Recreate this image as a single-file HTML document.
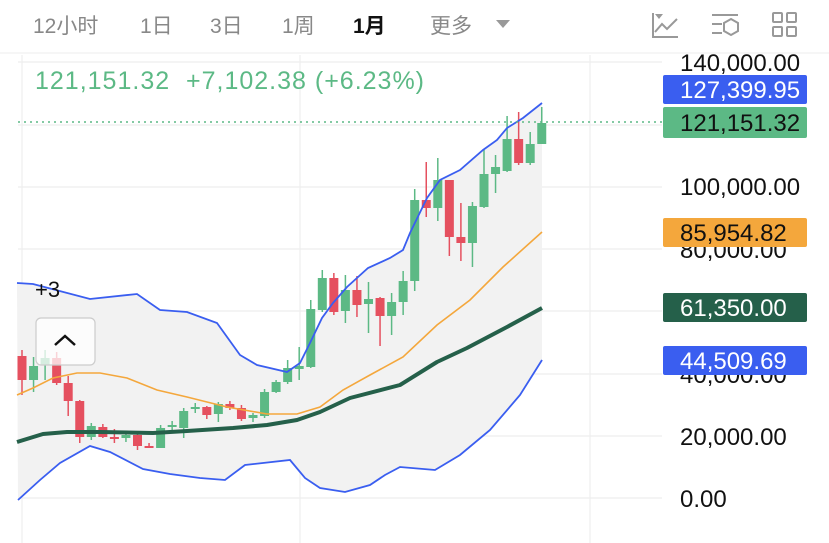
<!DOCTYPE html>
<html><head><meta charset="utf-8"><style>
body{margin:0;background:#fff;width:829px;height:543px;overflow:hidden;font-family:"Liberation Sans","Noto Sans CJK SC",sans-serif}
</style></head><body>
<svg id="s" width="829" height="543" xmlns="http://www.w3.org/2000/svg" style="position:absolute;left:0;top:0">
<line x1="0" y1="53" x2="829" y2="53" stroke="#eee" stroke-width="1"/>
<g font-size="21" fill="#888" font-family="Liberation Sans,Noto Sans CJK SC,sans-serif">
<text x="33" y="33">12小时</text><text x="140" y="33">1日</text><text x="210" y="33">3日</text><text x="282" y="33">1周</text>
<text x="353" y="33" fill="#111" font-weight="bold">1月</text><text x="430" y="33">更多</text>
</g>
<path d="M496 20 L510 20 L503 28Z" fill="#999"/>
<g stroke="#999" stroke-width="2" fill="none">
<path d="M653 13 V37 H678"/><path d="M655 32 L662 24 L667 29 L677 19"/><path d="M655 14 h8 l-4 5z" fill="#999" stroke="none"/>
<path d="M712 15 H738 M712 24 H722 M712 33 H722"/><path d="M731 19 l7 4 v8 l-7 4 l-7 -4 v-8z"/>
<rect x="773" y="13" width="9" height="9" rx="1"/><rect x="787" y="13" width="9" height="9" rx="1"/><rect x="773" y="27" width="9" height="9" rx="1"/><rect x="787" y="27" width="9" height="9" rx="1"/>
</g>
<g id="grid" stroke="#eee" stroke-width="1.2"></g>
<g id="chart"></g>
<line x1="18" y1="122" x2="662" y2="122" stroke="#5cb985" stroke-width="1.5" stroke-dasharray="2,4"/>
<text x="35" y="89" font-size="25" fill="#5cb985" letter-spacing="1" xml:space="preserve">121,151.32  +7,102.38 (+6.23%)</text>
<g font-size="24" fill="#111">
<text x="680" y="71">140,000.00</text>
<text x="680" y="195">100,000.00</text>
<text x="680" y="258">80,000.00</text>
<text x="680" y="383">40,000.00</text>
<text x="680" y="445">20,000.00</text>
<text x="680" y="507">0.00</text>
</g>
<g font-size="24">
<rect x="663" y="75" width="144" height="29" rx="2" fill="#3a5ef0"/><text x="680" y="98" fill="#fff">127,399.95</text>
<rect x="663" y="107" width="144" height="31" rx="2" fill="#5cb985"/><text x="680" y="131" fill="#111">121,151.32</text>
<rect x="663" y="218" width="144" height="29" rx="2" fill="#f4a73c"/><text x="680" y="241" fill="#111">85,954.82</text>
<rect x="663" y="293" width="144" height="29" rx="2" fill="#25604a"/><text x="680" y="316" fill="#fff">61,350.00</text>
<rect x="663" y="346" width="144" height="29" rx="2" fill="#3a5ef0"/><text x="680" y="369" fill="#fff">44,509.69</text>
</g>
<text x="35" y="297" font-size="22" fill="#111">+3</text>
<rect x="36" y="318" width="59" height="47" rx="5" fill="rgba(255,255,255,0.75)" stroke="#ccc" stroke-width="1.2"/>
<path d="M55 345 L65 336 L75 345" stroke="#111" stroke-width="2.5" fill="none"/>
</svg>
<script>
var NS="http://www.w3.org/2000/svg";
function el(p,t,a){var e=document.createElementNS(NS,t);for(var k in a)e.setAttribute(k,a[k]);p.appendChild(e);return e;}
var g=document.getElementById('grid'),c=document.getElementById('chart');
[62,125,187,249,311,374,436,498].forEach(function(y){el(g,'line',{x1:18,y1:y,x2:662,y2:y});});
[22,300,590].forEach(function(x){el(g,'line',{x1:x,y1:55,x2:x,y2:543});});
var up=[[17,283],[33,284],[90,299],[137,294],[160,310],[187,312],[217,323],[240,355],[257,365],[287,372],[300,363],[310,343],[322,318],[333,303],[347,287],[368,268],[390,258],[403,250],[410,233],[427,198],[440,180],[460,170],[483,150],[497,140],[507,128],[523,118],[542,103]];
var lo=[[18,500],[40,480],[60,463],[90,446],[110,452],[143,469],[170,474],[200,478],[225,480],[245,465],[290,460],[305,478],[320,488],[345,492],[370,485],[385,475],[400,467],[435,470],[460,455],[490,430],[520,395],[542,360]];
var mid=[[17,395],[33,388],[53,378],[77,373],[100,373],[127,378],[157,390],[187,397],[227,407],[267,414],[297,414],[320,407],[343,390],[370,375],[403,357],[437,325],[470,300],[503,267],[542,232]];
var ma=[[17,442],[43,434],[67,432],[100,432],[153,433],[187,431],[233,428],[267,425],[297,420],[320,412],[350,398],[400,385],[437,362],[467,348],[507,327],[542,308]];
function pts(a){return a.map(function(p){return p.join(',')}).join(' ');}
el(c,'polygon',{points:pts(up)+' '+pts(lo.slice().reverse()),fill:'#f2f2f2'});
var cd=[[356,380,350,395,'r'],[366,380,357,392,'g'],[358,365,350,380,'g'],[358,383,352,385,'r'],[383,401,376,416,'r'],[401,437,400,443,'r'],[426,437,423,440,'g'],[427,437,424,438,'r'],[437,439,429,443,'r'],[435,438,433,442,'g'],[435,446,432,450,'r'],[446,448,443,448,'r'],[428,448,425,448,'g'],[425,427,421,433,'g'],[411,428,408,438,'g'],[407,409,403,413,'g'],[407,415,406,419,'r'],[404,414,402,422,'g'],[404,408,401,410,'r'],[408,419,405,421,'r'],[415,418,413,422,'g'],[392,416,389,418,'g'],[382,392,380,393,'g'],[368,382,360,384,'g'],[366,369,347,380,'g'],[309,367,300,368,'g'],[278,310,270,312,'g'],[278,312,273,315,'r'],[290,311,275,323,'g'],[290,305,276,317,'r'],[299,304,282,333,'g'],[298,316,297,346,'r'],[302,316,293,335,'g'],[281,302,271,315,'g'],[200,281,189,291,'g'],[200,208,162,217,'r'],[180,208,158,221,'g'],[180,237,180,256,'r'],[237,243,203,261,'r'],[206,243,202,267,'g'],[174,207,150,208,'g'],[167,174,155,193,'g'],[139,171,116,172,'g'],[139,163,112,165,'r'],[144,163,132,165,'g'],[123,144,107,144,'g']];
cd.forEach(function(d,i){var x=22+i*11.55,col=d[4]=='r'?'#e5505f':'#5cb985';
el(c,'line',{x1:x,y1:d[2],x2:x,y2:d[3],stroke:col,'stroke-width':1.5});
el(c,'rect',{x:x-4.5,y:d[0],width:9,height:Math.max(2,d[1]-d[0]),fill:col});});
el(c,'polyline',{points:pts(up),fill:'none',stroke:'#3a5ef0','stroke-width':1.8});
el(c,'polyline',{points:pts(lo),fill:'none',stroke:'#3a5ef0','stroke-width':1.8});
el(c,'polyline',{points:pts(mid),fill:'none',stroke:'#f4a73c','stroke-width':1.6});
el(c,'polyline',{points:pts(ma),fill:'none',stroke:'#25604a','stroke-width':4,'stroke-linejoin':'round'});
</script>
</body></html>
